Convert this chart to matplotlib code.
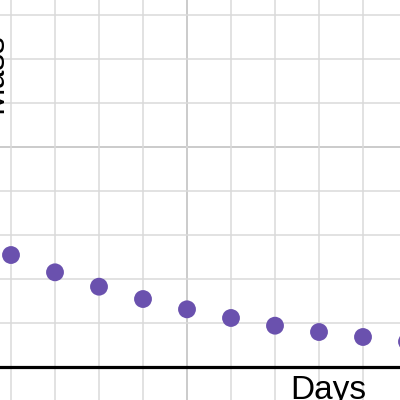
import matplotlib
matplotlib.use("Agg")
import matplotlib.pyplot as plt

# data
days = [-4, -3, -2, -1, 0, 1, 2, 3, 4, 5]
values = [-2.455, -2.848, -3.175, -3.455, -3.689, -3.886, -4.061, -4.205, -4.318, -4.425]
x_label = "Days"
y_label = "Mass"
baseline_y = -5

fig = plt.figure(figsize=(4, 4), dpi=100)
ax = fig.add_axes([0, 0, 1, 1])
for s in ax.spines.values():
    s.set_visible(False)
ax.set_xticks(range(-5, 6))
ax.set_yticks(range(-6, 4))
ax.set_xlim(-187 / 44, 213 / 44)
ax.set_ylim(-253 / 44, 147 / 44)
ax.tick_params(length=0, labelbottom=False, labelleft=False)
ax.grid(True, color="#dadada", linewidth=1.1, zorder=0)
ax.axvline(0, color="#8f8f8f", linewidth=1.2, zorder=1)
ax.axhline(0, color="#8f8f8f", linewidth=1.2, zorder=1)
ax.axhline(baseline_y, color="black", linewidth=2.3, zorder=2)

ax.scatter(days, values, s=165, color="#6a51ae", edgecolors="none", zorder=3)

ax.text(2.35, -5.72, x_label, fontsize=24, family="Liberation Sans",
        ha="left", va="baseline", zorder=4)
ax.text(-4.19, 1.68, y_label, fontsize=24, family="Liberation Sans",
        rotation=90, rotation_mode="anchor", ha="center", va="baseline",
        zorder=4)

fig.savefig("out.png", dpi=100)
